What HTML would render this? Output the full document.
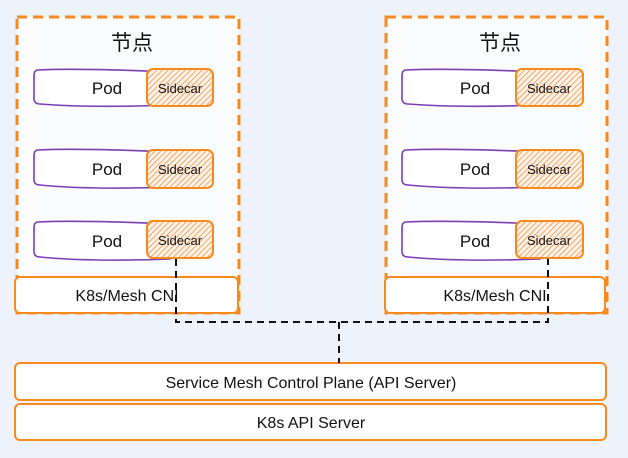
<!DOCTYPE html>
<html><head><meta charset="utf-8"><style>
html,body{margin:0;padding:0;background:#eef3fb;}
svg{display:block;font-family:"Liberation Sans","Noto Sans CJK SC",sans-serif;}
</style></head><body>
<svg width="628" height="458" viewBox="0 0 628 458" xmlns="http://www.w3.org/2000/svg">
<defs>
<pattern id="h" width="4" height="4" patternUnits="userSpaceOnUse" patternTransform="rotate(45)">
<rect width="4" height="4" fill="#fff4ea"/>
<line x1="0" y1="0" x2="0" y2="4" stroke="#f5893a" stroke-width="1.5"/>
</pattern>
</defs>
<rect width="628" height="458" fill="#eef3fb"/>
<g fill="#fbfcfe" stroke="#f78a1f" stroke-width="3" stroke-dasharray="10,6">
<rect x="17" y="17" width="222" height="296"/>
<rect x="386" y="17" width="221" height="296"/>
</g>
<g font-size="21" fill="#111" text-anchor="middle">
<text x="132" y="50">节点</text>
<text x="500" y="50">节点</text>
</g>
<g fill="#fff" stroke="#7a3fb5" stroke-width="1.6">
<path d="M38 70 Q80 68 170 72 L170 105 Q90 108 40 104 Q33 104 34 96 L34 76 Q34 70 38 70Z"/>
<path d="M38 150 Q80 148 170 152 L170 187 Q90 190 40 185 Q33 185 34 177 L34 156 Q34 150 38 150Z"/>
<path d="M38 222 Q80 220 170 224 L170 259 Q90 262 40 257 Q33 257 34 249 L34 228 Q34 222 38 222Z"/>
<path d="M406 70 Q450 68 540 72 L540 105 Q460 108 408 104 Q401 104 402 96 L402 76 Q402 70 406 70Z"/>
<path d="M406 150 Q450 148 540 152 L540 187 Q460 190 408 185 Q401 185 402 177 L402 156 Q402 150 406 150Z"/>
<path d="M406 222 Q450 220 540 224 L540 259 Q460 262 408 257 Q401 257 402 249 L402 228 Q402 222 406 222Z"/>
</g>
<g font-size="17" fill="#111" text-anchor="middle">
<text x="107" y="94">Pod</text><text x="107" y="175">Pod</text><text x="107" y="247">Pod</text>
<text x="475" y="94">Pod</text><text x="475" y="175">Pod</text><text x="475" y="247">Pod</text>
</g>
<g fill="url(#h)" stroke="#f78a1f" stroke-width="2">
<rect x="147" y="69" width="66" height="37" rx="6"/>
<rect x="147" y="150" width="66" height="38" rx="6"/>
<rect x="147" y="221" width="66" height="37" rx="6"/>
<rect x="516" y="69" width="67" height="37" rx="6"/>
<rect x="516" y="150" width="67" height="38" rx="6"/>
<rect x="516" y="221" width="67" height="37" rx="6"/>
</g>
<g font-size="13" fill="#111" text-anchor="middle">
<text x="180" y="93">Sidecar</text><text x="180" y="174">Sidecar</text><text x="180" y="245">Sidecar</text>
<text x="549" y="93">Sidecar</text><text x="549" y="174">Sidecar</text><text x="549" y="245">Sidecar</text>
</g>
<g fill="#fff" stroke="#f78a1f" stroke-width="2">
<rect x="15" y="277" width="223" height="36" rx="5"/>
<rect x="385" y="277" width="220" height="36" rx="5"/>
<rect x="15" y="363" width="591" height="37" rx="5"/>
<rect x="15" y="404" width="591" height="36" rx="5"/>
</g>
<g font-size="16" fill="#111" text-anchor="middle">
<text x="127" y="301">K8s/Mesh CNI</text>
<text x="495" y="301">K8s/Mesh CNI</text>
<text x="311" y="388">Service Mesh Control Plane (API Server)</text>
<text x="311" y="428">K8s API Server</text>
</g>
<g fill="none" stroke="#111" stroke-width="2" stroke-dasharray="7,5">
<path d="M176 259 L176 322 L548 322 L548 259"/>
<path d="M339 322 L339 363"/>
</g>
</svg>
</body></html>
